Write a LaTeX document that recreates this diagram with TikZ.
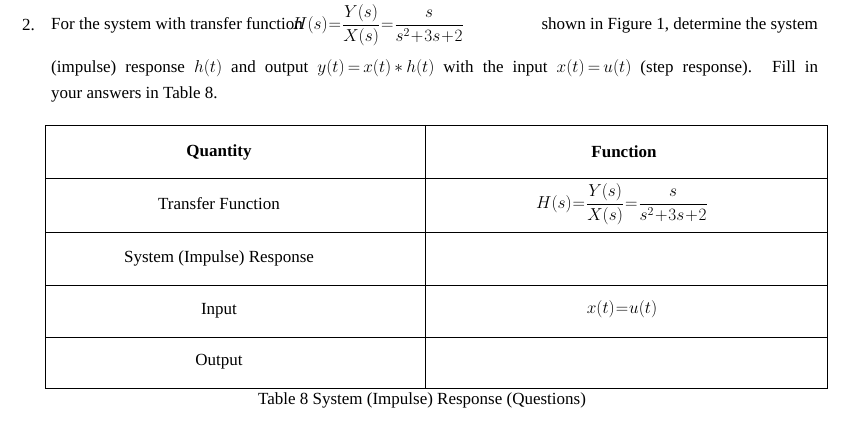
\documentclass[tikz,border=0pt]{standalone}
\usepackage{fontspec}
\setmainfont{Liberation Serif}
\begin{document}
\thickmuskip=1mu plus 1mu\relax
\medmuskip=1mu plus 1mu\relax
\begin{tikzpicture}[x=1pt,y=-1pt,
  txt/.style={inner sep=0pt,font=\fontsize{17}{20}\selectfont},
  cell/.style={txt,anchor=center},
  grid/.style={draw=black,line width=0.8pt}]
\useasboundingbox (0,0) rectangle (841,427);
\node[txt,anchor=west] (num) at (22,25) {2.};
\node[txt,anchor=west] (l1a) at (51,25) {For the system with transfer function};
\node[txt,anchor=west] (eq1) at (292,25) {$\displaystyle H(s)=\frac{Y(s)}{X(s)}=\frac{s}{s^2+3s+2}$};
\node[txt,anchor=east] (l1b) at (818,25) {shown in Figure 1, determine the system};
\node[txt,anchor=west] (l2) at (51,68) {\makebox[767pt][s]{(impulse) response $h(t)$ and output $y(t)=x(t)*h(t)$ with the input $x(t)=u(t)$ (step response). Fill in}};
\node[txt,anchor=west] (l3) at (51,94) {your answers in Table 8.};
\draw[grid] (45,125) rectangle (827,388);
\draw[grid] (425,125) -- (425,388);
\foreach \y in {178,232,285,337} \draw[grid] (45,\y) -- (827,\y);
\node[cell,font=\fontsize{17}{20}\selectfont\bfseries] (q) at (219,152) {Quantity};
\node[cell,font=\fontsize{17}{20}\selectfont\bfseries] (f) at (624,152) {Function};
\node[cell] (r1) at (219,204) {Transfer Function};
\node[cell] (r1f) at (622,204) {$\displaystyle H(s)=\frac{Y(s)}{X(s)}=\frac{s}{s^2+3s+2}$};
\node[cell] (r2) at (219,258) {System (Impulse) Response};
\node[cell] (r3) at (219,311) {Input};
\node[cell] (r3f) at (622,309) {$x(t)=u(t)$};
\node[cell] (r4) at (219,362) {Output};
\node[cell] (cap) at (422,400) {Table 8 System (Impulse) Response (Questions)};
\end{tikzpicture}
\end{document}
